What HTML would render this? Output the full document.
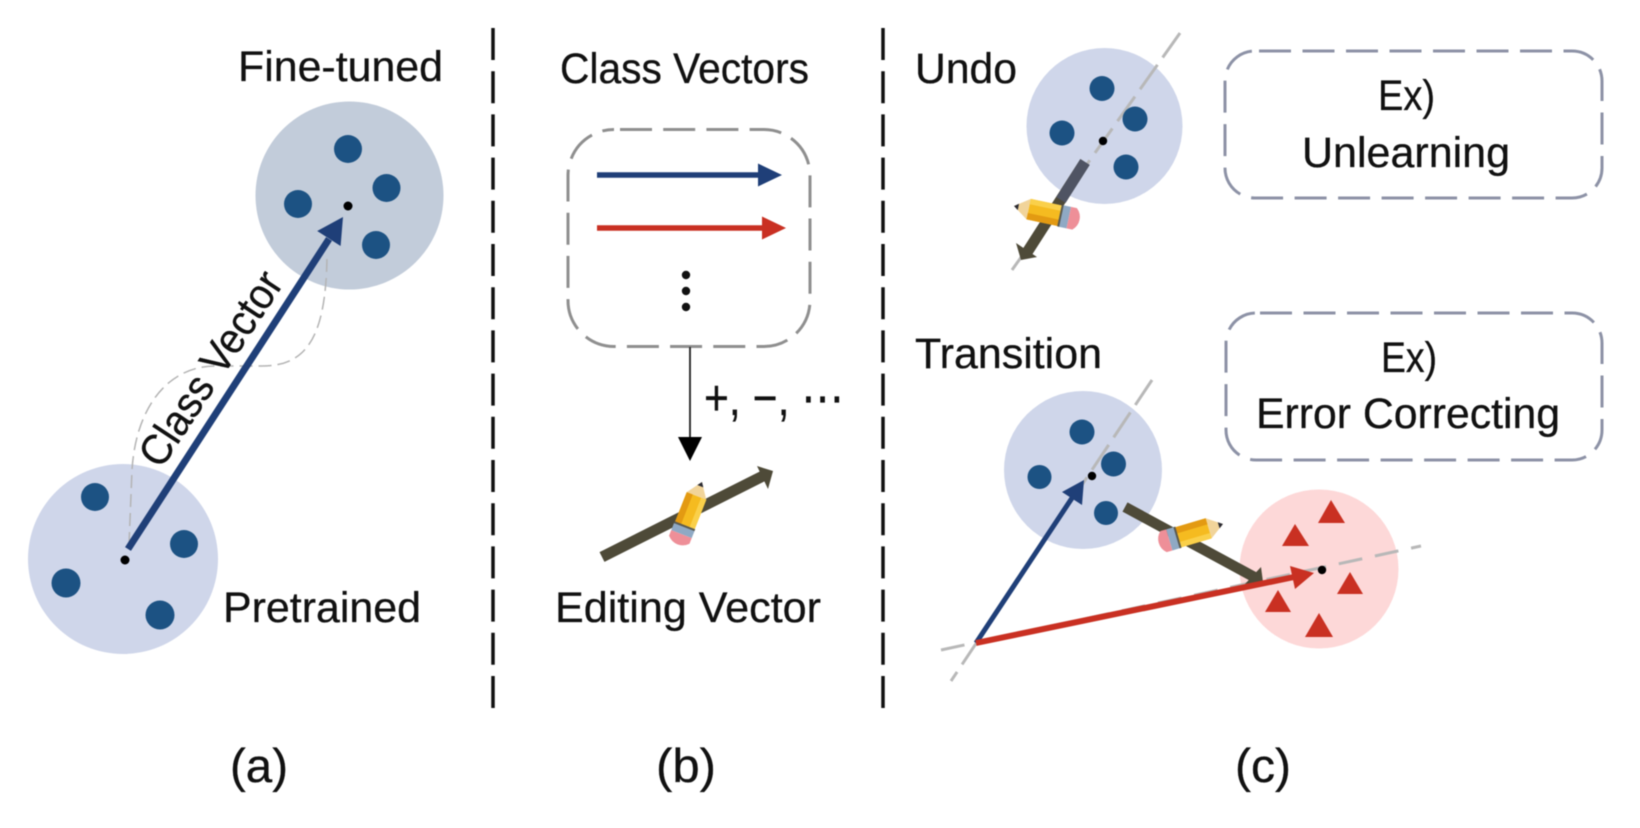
<!DOCTYPE html>
<html>
<head>
<meta charset="utf-8">
<style>
html,body{margin:0;padding:0;background:#fff;width:1640px;height:828px;overflow:hidden}
svg{display:block;filter:blur(0.6px)}
text{font-family:"Liberation Sans",sans-serif;font-size:43px;fill:#111;stroke:#111;stroke-width:0.3px}
</style>
</head>
<body>
<svg width="1640" height="828" viewBox="0 0 1640 828" xmlns="http://www.w3.org/2000/svg">
<defs>
<g id="pencil">
  <polygon points="0,0 15,-10.5 15,10.5" fill="#f1d49a"/>
  <polygon points="0,0 4.5,-3.2 4.5,3.2" fill="#2b2b33"/>
  <rect x="15" y="-10.5" width="33" height="21" fill="#f5bb20"/>
  <rect x="15" y="-10.5" width="33" height="5.5" fill="#fad04a"/>
  <rect x="15" y="4" width="33" height="6.5" fill="#e39a12"/>
  <rect x="48" y="-11" width="8" height="22" fill="#8fa9c4"/>
  <rect x="46.5" y="-11" width="2" height="22" fill="#5a5a50"/>
  <path d="M56,-11 L62,-11 Q67,-6.5 67,0 Q67,6.5 62,11 L56,11 Z" fill="#ee8f98"/>
</g>
</defs>

<!-- separators -->
<line x1="493" y1="28" x2="493" y2="708" stroke="#111" stroke-width="3.5" stroke-dasharray="32 11.2"/>
<line x1="883" y1="28" x2="883" y2="708" stroke="#111" stroke-width="3.5" stroke-dasharray="32 11.2"/>

<!-- PANEL A -->
<circle cx="349.5" cy="195.5" r="94" fill="#c2ccda"/>
<circle cx="123" cy="559" r="95" fill="#cfd6ea"/>
<path d="M129 545 L132 470 C136 405 170 366 215 366 L262 366 C305 366 326 340 327 256" fill="none" stroke="#b4b4b4" stroke-width="1.5" stroke-dasharray="13 6"/>
<g fill="#1c5283">
  <circle cx="348" cy="149" r="14"/><circle cx="386.5" cy="188" r="14"/>
  <circle cx="298" cy="204" r="14"/><circle cx="376" cy="245" r="14"/>
  <circle cx="95" cy="497" r="14"/><circle cx="184" cy="544" r="14"/>
  <circle cx="66" cy="583" r="14.5"/><circle cx="160" cy="615" r="14.5"/>
</g>
<circle cx="348" cy="206" r="4.5" fill="#000"/>
<circle cx="125" cy="560" r="4.5" fill="#000"/>
<line x1="128" y1="549" x2="329" y2="239" stroke="#1f3f78" stroke-width="7"/>
<polygon points="343,217 340.6,246 317.2,231" fill="#1f3f78"/>
<text x="238" y="81" textLength="205" lengthAdjust="spacingAndGlyphs">Fine-tuned</text>
<text x="223" y="622" textLength="198" lengthAdjust="spacingAndGlyphs">Pretrained</text>
<text transform="translate(161,470) rotate(-56.5)" textLength="224" lengthAdjust="spacingAndGlyphs">Class Vector</text>
<text x="230" y="782" textLength="58" lengthAdjust="spacingAndGlyphs" style="font-size:47px">(a)</text>

<!-- PANEL B -->
<text x="560" y="83" textLength="249" lengthAdjust="spacingAndGlyphs">Class Vectors</text>
<rect x="568" y="129.5" width="242" height="217" rx="46" ry="46" fill="none" stroke="#8f8f8f" stroke-width="3" stroke-dasharray="32 11.2" stroke-dashoffset="-6"/>
<line x1="597" y1="175" x2="760" y2="175" stroke="#1f3f78" stroke-width="5.5"/>
<polygon points="782,175 758,163.5 758,186.5" fill="#1f3f78"/>
<line x1="597" y1="228" x2="764" y2="228" stroke="#c93022" stroke-width="5.5"/>
<polygon points="786,228 762,216.5 762,239.5" fill="#c93022"/>
<circle cx="686" cy="275" r="4.2" fill="#111"/><circle cx="686" cy="291" r="4.2" fill="#111"/><circle cx="686" cy="307" r="4.2" fill="#111"/>
<line x1="690" y1="347" x2="690" y2="440" stroke="#222" stroke-width="1.8"/>
<polygon points="690,461 678,437 702,437" fill="#000"/>
<text x="704" y="415" textLength="140" lengthAdjust="spacingAndGlyphs" style="font-size:50px">+, −, ⋯</text>
<line x1="602" y1="557" x2="765" y2="475" stroke="#4e4a38" stroke-width="11"/>
<polygon points="773,471 757,466 768,489" fill="#4e4a38"/>
<use href="#pencil" transform="translate(702,482) rotate(111.5)"/>
<text x="555" y="622" textLength="266" lengthAdjust="spacingAndGlyphs">Editing Vector</text>
<text x="656" y="782" textLength="60" lengthAdjust="spacingAndGlyphs" style="font-size:47px">(b)</text>

<!-- PANEL C top -->
<text x="915" y="83" textLength="102" lengthAdjust="spacingAndGlyphs">Undo</text>
<circle cx="1104.5" cy="126" r="78" fill="#cfd6ea"/>
<line x1="1180" y1="33" x2="1012" y2="270" stroke="#b8b8b8" stroke-width="3" stroke-dasharray="30 9"/>
<g fill="#1c5283">
  <circle cx="1102" cy="88.5" r="12.5"/><circle cx="1135" cy="119" r="12.5"/>
  <circle cx="1062" cy="133" r="12.5"/><circle cx="1126" cy="167" r="12.5"/>
</g>
<circle cx="1103" cy="141" r="4.2" fill="#000"/>
<line x1="1085" y1="162" x2="1026" y2="254" stroke="#4e4a38" stroke-width="11"/>
<line x1="1085" y1="162" x2="1061" y2="200" stroke="#4f5463" stroke-width="11"/>
<polygon points="1021,260 1016,243 1037,257" fill="#4e4a38"/>
<use href="#pencil" transform="translate(1014,206) rotate(12)"/>
<rect x="1225" y="51" width="377" height="147" rx="30" ry="30" fill="none" stroke="#8d92a6" stroke-width="3" stroke-dasharray="32 11.5" stroke-dashoffset="-4"/>
<text x="1378" y="110" textLength="57" lengthAdjust="spacingAndGlyphs">Ex)</text>
<text x="1302" y="167" textLength="208" lengthAdjust="spacingAndGlyphs">Unlearning</text>

<!-- PANEL C bottom -->
<text x="915" y="368" textLength="187" lengthAdjust="spacingAndGlyphs">Transition</text>
<rect x="1226" y="313" width="376" height="147" rx="30" ry="30" fill="none" stroke="#8d92a6" stroke-width="3" stroke-dasharray="32 11.5" stroke-dashoffset="-4"/>
<text x="1381" y="372" textLength="56" lengthAdjust="spacingAndGlyphs">Ex)</text>
<text x="1256" y="428" textLength="304" lengthAdjust="spacingAndGlyphs">Error Correcting</text>

<circle cx="1083" cy="470" r="79" fill="#cfd6ea"/>
<circle cx="1319" cy="569" r="79.5" fill="#fdd8d8"/>
<line x1="1152" y1="380" x2="951" y2="681" stroke="#b8b8b8" stroke-width="3" stroke-dasharray="30 9"/>
<line x1="941" y1="650" x2="1421" y2="546" stroke="#b8b8b8" stroke-width="3" stroke-dasharray="24 13"/>
<g fill="#1c5283">
  <circle cx="1082" cy="432" r="12.5"/><circle cx="1113.5" cy="464" r="12.5"/>
  <circle cx="1039.5" cy="477" r="12"/><circle cx="1106" cy="513" r="12"/>
</g>
<g fill="#c93022">
  <polygon points="1331,500 1318,523 1345,523"/>
  <polygon points="1295,524 1282,546 1309,546"/>
  <polygon points="1350,572 1337,594 1363,594"/>
  <polygon points="1278,590 1265,612 1291,612"/>
  <polygon points="1319,613 1305,637 1333,637"/>
</g>
<line x1="1125" y1="507" x2="1256" y2="578" stroke="#4e4a38" stroke-width="10.5"/>
<polygon points="1263,582 1261,567 1245,584" fill="#4e4a38"/>
<use href="#pencil" transform="translate(1223,524) rotate(163.5)"/>
<line x1="976" y1="643" x2="1072" y2="498" stroke="#1f3f78" stroke-width="5"/>
<polygon points="1084,480 1082,505 1062,492" fill="#1f3f78"/>
<line x1="976" y1="643" x2="1294" y2="577" stroke="#c93022" stroke-width="6"/>
<polygon points="1314,573 1295,589 1290,566" fill="#c93022"/>
<circle cx="1092" cy="476" r="4.2" fill="#000"/>
<circle cx="1322" cy="570" r="4.2" fill="#000"/>
<text x="1235" y="782" textLength="56" lengthAdjust="spacingAndGlyphs" style="font-size:47px">(c)</text>
</svg>
</body>
</html>
